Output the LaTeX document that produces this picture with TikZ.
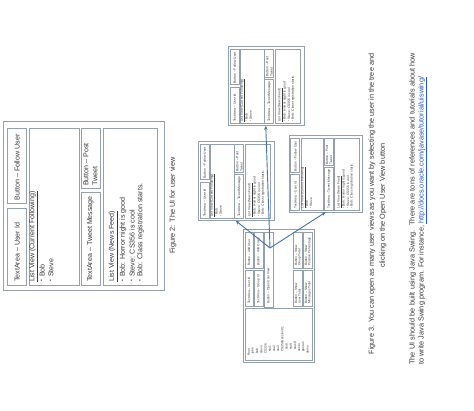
\documentclass[tikz,border=0pt]{standalone}
\usepackage{fontspec}
\setmainfont{Liberation Sans}
\usetikzlibrary{arrows.meta}
\definecolor{boxgray}{RGB}{150,160,172}
\definecolor{txtgray}{RGB}{55,55,55}
\definecolor{arrowblue}{RGB}{70,115,170}
\definecolor{linkblue}{RGB}{40,90,190}
\tikzset{
  uibox/.style={draw=boxgray, line width=0.7pt},
  lbl/.style={rotate=90, anchor=west, inner sep=0pt, text=txtgray, font=\fontsize{7.1}{8}\selectfont},
  bul/.style={rotate=90, anchor=west, inner sep=0pt, text=txtgray, font=\fontsize{5}{6}\selectfont},
  captext/.style={rotate=90, inner sep=0pt, text=txtgray, font=\fontsize{7.3}{9}\selectfont},
  minitext/.style={rotate=90, anchor=west, inner sep=0pt, text=txtgray, font=\fontsize{3.2}{3.6}\selectfont},
  arr/.style={draw=arrowblue, line width=0.9pt, -{Stealth[length=4pt,width=3.5pt]}},
  userview/.pic={
    \draw[uibox] (0,0) rectangle (161,169);
    \draw[uibox] (4,87) rectangle (23,164);
    \draw[uibox] (4,7) rectangle (23,82);
    \draw[uibox] (26,7) rectangle (76,164);
    \draw[uibox] (78,7) rectangle (97,67);
    \draw[uibox] (78,71) rectangle (97,164);
    \draw[uibox] (100,7) rectangle (154,164);
    \coordinate (-in) at (80,169);
    \node[lbl] (-uid) at (14,161) {TextArea – User Id};
    \node[lbl] (-follow) at (14,79.5) {Button – Follow User};
    \node[lbl] (-lv1) at (30.5,161) {\underline{List View (Current Following)}};
    \node[bul] (-b1) at (39,161) {•};
    \node[lbl] (-bob) at (39,156) {Bob};
    \node[bul] (-b2) at (48,161) {•};
    \node[lbl] (-steve) at (48,156) {Steve};
    \node[lbl] (-post1) at (83,65) {Button – Post};
    \node[lbl] (-post2) at (92,65) {Tweet};
    \node[lbl] (-tweet) at (87.5,161) {TextArea – Tweet Message};
    \node[lbl] (-lv2) at (110,161) {\underline{List View (News Feed)}};
    \node[bul] (-b3) at (120,161) {•};
    \node[lbl] (-n1) at (120,156) {Bob: Horror night is good};
    \node[bul] (-b4) at (129,161) {•};
    \node[lbl] (-n2) at (129,156) {Steve: CS356 is cool};
    \node[bul] (-b5) at (137.5,161) {•};
    \node[lbl] (-n3) at (137.5,156) {Bob: Class registration starts.};
  }
}
\begin{document}
\begin{tikzpicture}[x=1pt,y=-1pt]
\useasboundingbox (0,0) rectangle (474,411);
\fill[white] (0,0) rectangle (474,411);

% Figure 2
\pic (fig2) at (3,121) {userview};
\node[captext] (cap2) at (173,205.5) {Figure 2: The UI for user view};

% Figure 3 - admin window
\draw[uibox] (243,229) rectangle (314,362);
\draw[uibox] (245,270) rectangle (253,306);
\draw[uibox] (245,232) rectangle (253,268);
\draw[uibox] (254,270) rectangle (263,306);
\draw[uibox] (254,232) rectangle (263,268);
\draw[uibox] (264,232) rectangle (273,307);
\draw[uibox] (293,270) rectangle (302,306);
\draw[uibox] (293,232) rectangle (302,268);
\draw[uibox] (303,270) rectangle (312,306);
\draw[uibox] (303,232) rectangle (312,268);
\draw[uibox] (245,308) rectangle (312,360);
\node[minitext] (a1) at (249,304) {TextArea – User Id};
\node[minitext] (a2) at (249,266) {Button – Add User};
\node[minitext] (a3) at (258.5,304) {TextArea – Group Id};
\node[minitext] (a4) at (258.5,266) {Button – Add Group};
\node[minitext] (a5) at (268.5,304) {Button – Open User View};
\node[minitext] (a6) at (296,304) {Button – Show};
\node[minitext] (a6b) at (299.5,304) {User Total};
\node[minitext] (a7) at (296,266) {Button – Show};
\node[minitext] (a7b) at (299.5,266) {Group Total};
\node[minitext] (a8) at (306,304) {Button – Show};
\node[minitext] (a8b) at (309.5,304) {Messages Total};
\node[minitext] (a9) at (306,266) {Button – Show};
\node[minitext] (a9b) at (309.5,266) {Positive Percentage};
\foreach \i/\t/\s in {1/Root/356, 2/john/354, 3/bob/354, 4/steve/354, 5/CS356/354, 6/stu1/352, 7/stu2/352, 8/stu3/352, 9/CS356Session01/352, 10/stu8/350, 11/stu9/350, 12/stu10/350, 13/oostu/352, 14/ppstu1/352, 15/demo/354}
  \node[minitext] (t\i) at ({244.5+4.2*\i},\s) {\t};

% user views
\pic[scale=0.472, transform shape] (uvtop) at (228,46) {userview};
\pic[scale=0.472, transform shape] (uvleft) at (198,141) {userview};
\pic[scale=0.457, transform shape] (uvright) at (289,135) {userview};

\coordinate (src) at (270,248);
\draw[arr] (src) -- (uvtop-in);
\draw[arr] (src) -- (uvleft-in);
\draw[arr] (src) -- (uvright-in);

% Captions and text
\node[captext] (cap3a) at (372,204) {Figure 3. You can open as many user views as you want by selecting the user in the tree and};
\node[captext] (cap3b) at (383,205.5) {clicking on the Open User View button};
\node[captext, anchor=base west] (p1) at (414.5,365) {\parbox{312pt}{\parfillskip=0pt The UI should be built using Java Swing.\ \ There are tons of references and tutorials about how}};
\node[captext, anchor=base west] (p2) at (423.5,365) {to write Java Swing program. For instance, \textcolor{linkblue}{\underline{http://docs.oracle.com/javase/tutorial/uiswing/}}};
\end{tikzpicture}
\end{document}
